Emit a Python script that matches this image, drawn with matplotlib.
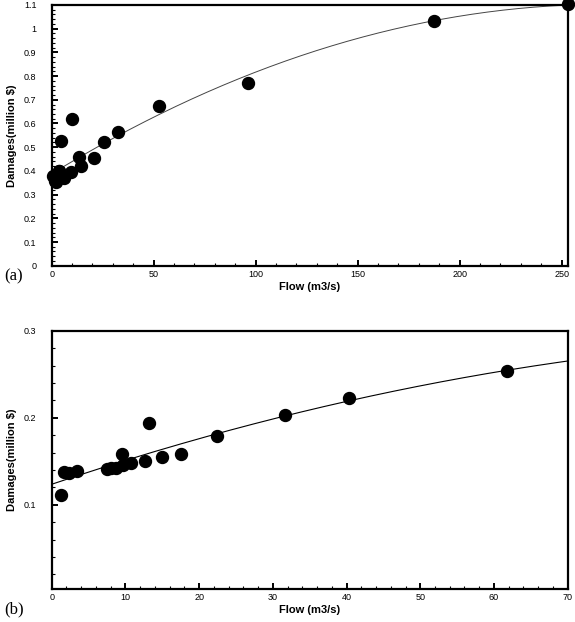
import numpy as np
import matplotlib
matplotlib.use("Agg")
import matplotlib.pyplot as plt
from matplotlib.ticker import MultipleLocator

plt.rcParams['font.family'] = ['Liberation Sans', 'DejaVu Sans']

# (a) flow vs damages
flow_a = [0.8, 1.6, 2.0, 3.6, 3.7, 4.4, 5.7, 6.0, 9.3, 10.1, 13.5, 14.2,
          20.7, 25.7, 32.6, 52.6, 96.4, 187.3, 253.0]
dmg_a = [0.379, 0.358, 0.355, 0.398, 0.398, 0.525, 0.374, 0.370, 0.395, 0.618,
         0.460, 0.422, 0.455, 0.523, 0.565, 0.673, 0.772, 1.033, 1.103]

# (b)
flow_b = [1.26, 1.67, 2.4, 3.5, 7.45, 8.0, 8.7, 9.57, 9.7, 10.7, 12.7, 13.2,
          14.9, 17.56, 22.4, 31.7, 40.3, 61.8]
dmg_b = [0.111, 0.1375, 0.1367, 0.139, 0.141, 0.142, 0.1428, 0.158, 0.146,
         0.148, 0.1505, 0.194, 0.1547, 0.1589, 0.179, 0.2033, 0.2224, 0.2538]

fig = plt.figure(figsize=(5.75, 6.22), dpi=100)
ax1 = fig.add_axes([0.0899, 0.5728, 0.8974, 0.4192])
ax2 = fig.add_axes([0.0899, 0.0526, 0.8974, 0.4157])


def style(ax):
    for s in ax.spines.values():
        s.set_linewidth(1.6)
    ax.tick_params(which='both', direction='in', top=False, right=False,
                   labelsize=6.5, colors='black')
    ax.tick_params(which='major', length=4.5, width=1.4)
    ax.tick_params(which='minor', length=2.2, width=0.8)
    ax.tick_params(axis='y', pad=11)
    ax.tick_params(axis='x', pad=3)


# top panel
coef_a = np.polyfit(flow_a, dmg_a, 2)
xs = np.linspace(0, 253, 200)
ax1.plot(xs, np.polyval(coef_a, xs), color='#444444', lw=0.7)
ax1.plot(flow_a, dmg_a, 'o', color='black', ms=8.6, clip_on=False)
ax1.set_xlim(0, 253)
ax1.set_ylim(0, 1.1)
ax1.xaxis.set_major_locator(MultipleLocator(50))
ax1.xaxis.set_minor_locator(MultipleLocator(10))
ax1.set_yticks(np.arange(0, 1.11, 0.1))
ax1.set_yticklabels(['0', '0.1', '0.2', '0.3', '0.4', '0.5', '0.6', '0.7',
                     '0.8', '0.9', '1', '1.1'])
ax1.yaxis.set_minor_locator(MultipleLocator(0.02))
style(ax1)
ax1.set_xlabel('Flow (m3/s)', fontsize=8, fontweight='bold', labelpad=2)
ax1.set_ylabel('Damages(million $)', fontsize=8, fontweight='bold', labelpad=5)

# bottom panel
coef_b = np.polyfit(flow_b, dmg_b, 2)
xs = np.linspace(0, 70, 200)
ax2.plot(xs, np.polyval(coef_b, xs), color='black', lw=0.8)
ax2.plot(flow_b, dmg_b, 'o', color='black', ms=8.6, clip_on=False)
ax2.set_xlim(0, 70)
ax2.set_ylim(0.003, 0.3)
ax2.xaxis.set_major_locator(MultipleLocator(10))
ax2.xaxis.set_minor_locator(MultipleLocator(2))
ax2.set_yticks([0.1, 0.2, 0.3])
ax2.set_yticklabels(['0.1', '0.2', '0.3'])
ax2.yaxis.set_minor_locator(MultipleLocator(0.02))
style(ax2)
ax2.set_xlabel('Flow (m3/s)', fontsize=8, fontweight='bold', labelpad=2)
ax2.set_ylabel('Damages(million $)', fontsize=8, fontweight='bold', labelpad=5)

fig.text(0.008, 0.550, '(a)', fontsize=12, family='Liberation Serif')
fig.text(0.008, 0.014, '(b)', fontsize=12, family='Liberation Serif')

fig.savefig('out.png', dpi=100)
